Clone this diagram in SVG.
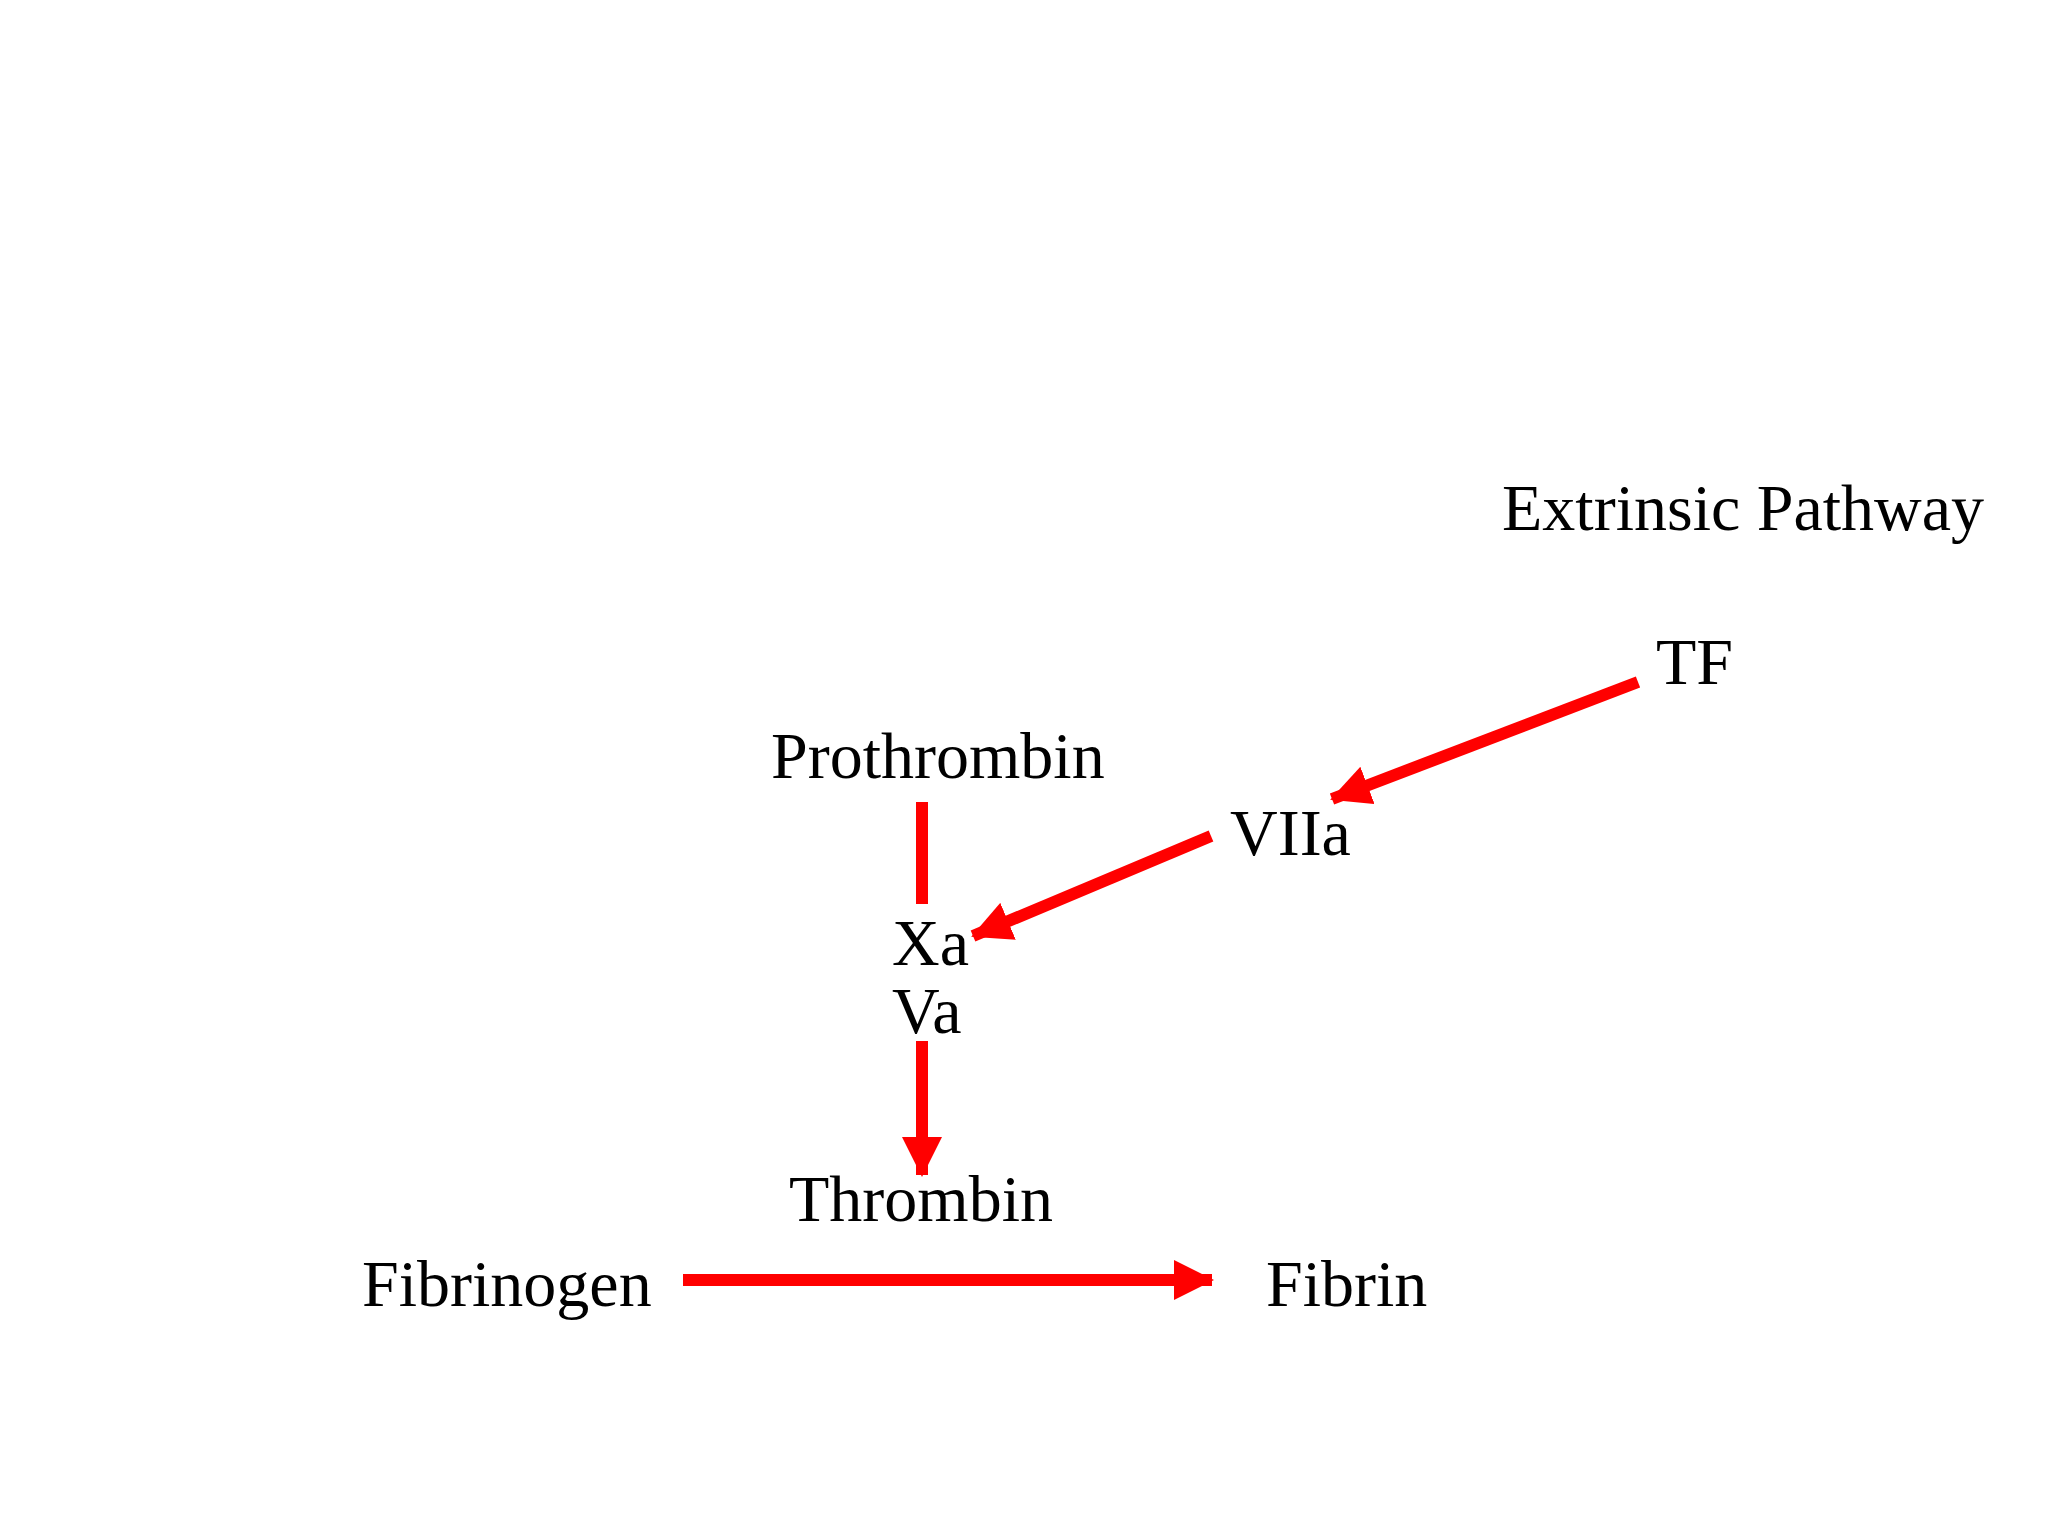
<svg xmlns="http://www.w3.org/2000/svg" width="2048" height="1536" viewBox="0 0 2048 1536">
<style>
text{font-family:"Liberation Serif","Times New Roman",serif;font-size:66px;fill:#000}
.c{stroke:#ff0000;stroke-width:12;fill:none}
</style>
<defs>
<marker id="a" markerUnits="userSpaceOnUse" markerWidth="40" markerHeight="40" viewBox="0 0 40 40" refX="38" refY="20" orient="auto">
<path d="M0,0 L40,20 L0,40 Z" fill="#ff0000"/>
</marker>
</defs>
<rect width="2048" height="1536" fill="#fff"/>
<g id="connectors">
<line class="c" x1="1638" y1="682" x2="1332" y2="799" marker-end="url(#a)"/>
<line class="c" x1="1211" y1="836" x2="973" y2="936" marker-end="url(#a)"/>
<line class="c" x1="922" y1="802" x2="922" y2="904"/>
<line class="c" x1="922" y1="1041" x2="922" y2="1175" marker-end="url(#a)"/>
<line class="c" x1="683" y1="1280" x2="1212" y2="1280" marker-end="url(#a)"/>
</g>
<g id="extrinsic"><text x="1502" y="530">Extrinsic Pathway</text></g>
<g id="tf"><text x="1656" y="684">TF</text></g>
<g id="prothrombin"><text x="771" y="778">Prothrombin</text></g>
<g id="viia"><text x="1230" y="855">VIIa</text></g>
<g id="xa"><text x="892" y="965">Xa</text></g>
<g id="va"><text x="892" y="1033">Va</text></g>
<g id="thrombin"><text x="789" y="1221">Thrombin</text></g>
<g id="fibrinogen"><text x="362" y="1306">Fibrinogen</text></g>
<g id="fibrin"><text x="1266" y="1306">Fibrin</text></g>
</svg>
